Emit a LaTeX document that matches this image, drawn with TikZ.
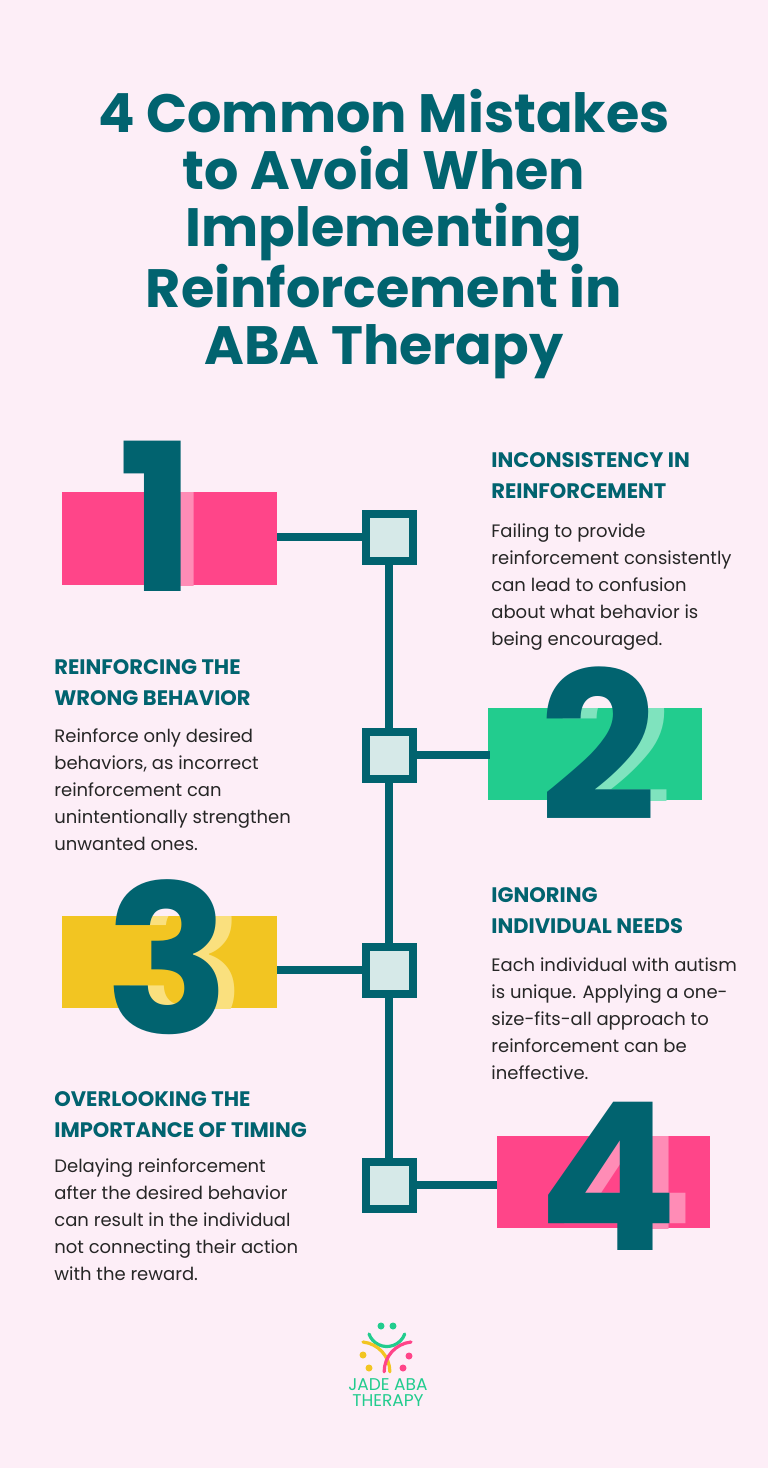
\documentclass[tikz,border=0pt]{standalone}
\usepackage{fontspec}
\setmainfont{Poppins}
\usetikzlibrary{positioning}
\definecolor{bgpink}{HTML}{FDEEF7}
\definecolor{teal}{HTML}{01636F}
\definecolor{hotpink}{HTML}{FF4589}
\definecolor{lightpink}{HTML}{FF8CB6}
\definecolor{mint}{HTML}{22CC8E}
\definecolor{lightmint}{HTML}{7FE3BE}
\definecolor{sun}{HTML}{F2C522}
\definecolor{lightsun}{HTML}{FAE07E}
\definecolor{boxfill}{HTML}{D6E9E8}
\tikzset{
  stem/.style={draw=teal,line width=4pt},
  joint/.style={draw=teal,fill=boxfill,line width=4pt,minimum size=23.5pt,inner sep=0pt},
  heading/.style={text=teal,font=\fontsize{10.5}{15.5}\selectfont\bfseries,anchor=north west,align=left,inner sep=0pt},
  body/.style={text=black!85,font=\fontsize{9}{13.5}\selectfont,anchor=north west,align=left,inner sep=0pt},
  bignum/.style={font=\fontsize{103}{103}\selectfont\bfseries,inner sep=0pt},
  logoarc/.style={line width=1.6pt,line cap=round}
}
\begin{document}
\begin{tikzpicture}[x=0.5pt,y=-0.5pt,line cap=butt]
  \fill[bgpink] (0,0) rectangle (768,1468);
  \useasboundingbox (0,0) rectangle (768,1468);
  % title
  \node[text=teal,font=\fontsize{27}{28.5}\selectfont\bfseries,align=center] (title) at (384,234)
    {4 Common Mistakes\\to Avoid When\\Implementing\\Reinforcement in\\ABA Therapy};
  % coloured bars with numbers
  \fill[hotpink] (62,492) rectangle (277,585);
  \fill[mint] (488,708) rectangle (702,800);
  \fill[sun] (62,916) rectangle (277,1008);
  \fill[hotpink] (497,1136) rectangle (710,1228);
  \begin{scope}
    \clip (62,492) rectangle (277,585);
    \node[bignum,text=lightpink] at (170,518) {1};
  \end{scope}
  \begin{scope}
    \clip (488,708) rectangle (702,800);
    \node[bignum,text=lightmint] at (614,744) {2};
  \end{scope}
  \begin{scope}
    \clip (62,916) rectangle (277,1008);
    \node[bignum,text=lightsun] at (184,957) {3};
  \end{scope}
  \begin{scope}
    \clip (497,1136) rectangle (710,1228);
    \node[bignum,text=lightpink] at (624,1176) {4};
  \end{scope}
  \node[bignum,text=teal] (n1) at (157,516) {1};
  \node[bignum,text=teal] (n2) at (598,744) {2};
  \node[bignum,text=teal] (n3) at (168,957) {3};
  \node[bignum,text=teal] (n4) at (608,1176) {4};
  % timeline
  \node[joint] (j1) at (389,537) {};
  \node[joint] (j2) at (389,755) {};
  \node[joint] (j3) at (389,970) {};
  \node[joint] (j4) at (389,1185) {};
  \coordinate (c1) at (277,537);
  \coordinate (c2) at (490,755);
  \coordinate (c3) at (277,970);
  \coordinate (c4) at (497,1185);
  \draw[stem] (j1) -- (j2);
  \draw[stem] (j2) -- (j3);
  \draw[stem] (j3) -- (j4);
  \draw[stem] (c1) -- (j1);
  \draw[stem] (j2) -- (c2);
  \draw[stem] (c3) -- (j3);
  \draw[stem] (j4) -- (c4);
  % texts
  \node[heading] (h1) at (491,452) {INCONSISTENCY IN\\REINFORCEMENT};
  \node[body] (b1) at (491,523) {Failing to provide\\reinforcement consistently\\can lead to confusion\\about what behavior is\\being encouraged.};
  \node[heading] (h2) at (54,659) {REINFORCING THE\\WRONG BEHAVIOR};
  \node[body] (b2) at (54,728) {Reinforce only desired\\behaviors, as incorrect\\reinforcement can\\unintentionally strengthen\\unwanted ones.};
  \node[heading] (h3) at (491,887) {IGNORING\\INDIVIDUAL NEEDS};
  \node[body] (b3) at (491,957) {Each individual with autism\\is unique. Applying a one-\\size-fits-all approach to\\reinforcement can be\\ineffective.};
  \node[heading] (h4) at (54,1091) {OVERLOOKING THE\\IMPORTANCE OF TIMING};
  \node[body] (b4) at (54,1158) {Delaying reinforcement\\after the desired behavior\\can result in the individual\\not connecting their action\\with the reward.};
  % logo
  \fill[mint] (381,1326) circle (3.5);
  \fill[mint] (393,1326) circle (3.5);
  \draw[logoarc,mint] (369,1334) arc (160:20:19);
  \draw[logoarc,sun] (363,1342) arc (-84:0:30);
  \draw[logoarc,hotpink] (411,1342) arc (264:180:30);
  \fill[sun] (363,1355) circle (3.5);
  \fill[sun] (369,1368) circle (3.5);
  \fill[hotpink] (409,1356) circle (3.5);
  \fill[hotpink] (403,1368) circle (3.5);
  \node[text=mint,font=\fontsize{8.5}{8}\selectfont,align=center] (logo) at (388,1393) {JADE ABA\\THERAPY};
\end{tikzpicture}
\end{document}
